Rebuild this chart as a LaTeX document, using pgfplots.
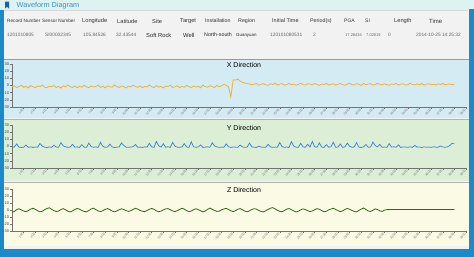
\documentclass[border=0pt]{standalone}
\usepackage{fontspec}
\setmainfont{Liberation Sans}
\usepackage{pgfplots}
\usepackage{pgfplotstable}
\pgfplotsset{compat=1.18}
\definecolor{uiblue}{HTML}{1A8BC8}
\definecolor{titlebg}{HTML}{DDF3F1}
\definecolor{tablebg}{HTML}{F2F2F2}
\definecolor{xbg}{HTML}{D5EBF3}
\definecolor{ybg}{HTML}{DCEFD6}
\definecolor{zbg}{HTML}{FAFAE5}
\definecolor{xcol}{HTML}{F2B134}
\definecolor{ycol}{HTML}{3C84D6}
\definecolor{zcol}{HTML}{2F6A12}
\definecolor{titletxt}{HTML}{3A8FC0}
\definecolor{icon}{HTML}{1F5FA8}

\pgfplotstableread[row sep=\\,header=false]{
-2.1\\ -0.5\\ -3.0\\ -1.2\\ 0.4\\ -2.6\\ -1.0\\ -3.4\\ -0.2\\ -1.8\\
-2.9\\ -0.8\\ -1.5\\ 0.6\\ -2.3\\ -3.1\\ -0.9\\ -1.7\\ -0.1\\ -2.8\\
-1.3\\ -3.6\\ -0.6\\ -2.0\\ 0.8\\ -1.6\\ -2.7\\ -0.4\\ -3.2\\ -1.1\\
-2.4\\ 0.2\\ -1.9\\ -3.0\\ -0.7\\ -2.2\\ -1.4\\ 0.5\\ -2.6\\ -1.0\\
-3.3\\ -0.3\\ -1.8\\ -2.5\\ 0.9\\ -1.2\\ -2.9\\ -0.6\\ -1.6\\ -3.5\\
-0.8\\ -2.1\\ 0.3\\ -1.4\\ -2.7\\ -0.5\\ -3.1\\ -1.3\\ -2.0\\ 0.7\\
-1.7\\ -2.8\\ -0.2\\ -2.3\\ -1.1\\ -3.4\\ -0.9\\ -1.5\\ 0.4\\ -2.6\\
-1.9\\ -0.4\\ -3.0\\ -1.2\\ -2.4\\ 0.1\\ -1.8\\ -2.9\\ -0.7\\ -2.2\\
-1.0\\ -3.2\\ 0.6\\ -1.6\\ -2.5\\ -0.3\\ -1.4\\ -2.8\\ 0.2\\ -1.7\\
-0.5\\ 1.5\\ 0.3\\ -2.0\\ -16.0\\ 8.0\\ 7.5\\ 9.0\\ 6.0\\ 4.5\\ 3.5\\ 2.5\\
2.3\\ 0.8\\ 1.9\\ 3.0\\ 0.4\\ 1.6\\ 2.7\\ 1.1\\ 0.2\\ 2.4\\
1.3\\ 3.2\\ 0.7\\ 1.8\\ 2.6\\ 0.5\\ 1.4\\ 2.9\\ 1.0\\ 2.1\\
0.3\\ 1.7\\ 3.1\\ 1.2\\ 0.6\\ 2.5\\ 1.9\\ 0.9\\ 2.8\\ 1.5\\
0.1\\ 2.2\\ 1.4\\ 3.0\\ 0.8\\ 1.6\\ 2.4\\ 0.5\\ 1.8\\ 2.7\\
1.1\\ 0.4\\ 2.0\\ 3.3\\ 1.3\\ 0.7\\ 2.5\\ 1.6\\ 0.2\\ 2.9\\
1.0\\ 1.9\\ 2.6\\ 0.6\\ 1.4\\ 3.1\\ 1.7\\ 0.9\\ 2.3\\ 1.2\\
0.3\\ 2.1\\ 1.5\\ 2.8\\ 0.8\\ 1.8\\ 2.4\\ 0.5\\ 1.3\\ 3.0\\
1.6\\ 0.7\\ 2.2\\ 1.1\\ 2.7\\ 0.4\\ 1.9\\ 2.5\\ 1.0\\ 1.7\\
0.6\\ 2.3\\ 1.4\\ 2.9\\ 0.9\\ 1.8\\ 2.0\\ 1.2\\ 1.6\\
}\xdata

\pgfplotstableread[row sep=\\,header=false]{
-1.2\\ -0.6\\ 3.5\\ -0.8\\ -1.4\\ -0.9\\ 2.0\\ -1.1\\ -0.5\\ -1.3\\
-0.7\\ -1.0\\ 4.2\\ 0.5\\ -0.9\\ -1.5\\ -0.6\\ -1.2\\ 1.8\\ -0.8\\
-1.1\\ 5.5\\ 0.8\\ -0.4\\ -1.3\\ -0.7\\ 3.0\\ -1.0\\ -0.5\\ -1.4\\
2.5\\ -0.9\\ -1.2\\ 4.8\\ -0.3\\ -1.0\\ -0.6\\ -1.3\\ 6.0\\ 0.2\\
-1.1\\ -0.8\\ 3.2\\ -0.5\\ -1.4\\ -0.9\\ -0.6\\ 5.0\\ 1.5\\ -1.0\\
-1.2\\ -0.7\\ -0.4\\ 2.8\\ -1.1\\ -0.8\\ -1.3\\ -0.5\\ -0.9\\ 4.5\\
-0.6\\ -1.2\\ 7.0\\ 1.0\\ -0.8\\ 3.8\\ -1.0\\ -0.4\\ -1.3\\ 5.8\\
0.3\\ -0.9\\ -1.1\\ -0.6\\ 4.0\\ -0.8\\ -1.2\\ 6.5\\ -0.5\\ -1.0\\
-0.7\\ 2.2\\ -1.3\\ -0.9\\ -0.4\\ -1.1\\ 5.2\\ 0.8\\ -0.6\\ -1.2\\
-0.8\\ -1.0\\ 3.6\\ -0.5\\ -1.3\\ -0.7\\ -0.9\\ -1.1\\ 2.0\\ -0.6\\
-1.2\\ -0.8\\ 4.8\\ -0.4\\ -1.0\\ -1.3\\ 0.5\\ -0.7\\ -1.1\\ -0.9\\
3.0\\ -0.6\\ -1.2\\ -0.8\\ -1.0\\ 5.5\\ -0.3\\ -1.1\\ -0.7\\ -1.4\\
6.8\\ 0.6\\ -0.9\\ -1.2\\ 4.5\\ -0.5\\ -1.0\\ 3.2\\ -0.8\\ 7.2\\
-0.4\\ -1.1\\ 5.0\\ -0.7\\ -1.3\\ 2.5\\ -0.9\\ -0.6\\ 6.0\\ -1.0\\
-0.8\\ 3.5\\ -1.2\\ -0.5\\ 4.8\\ 0.4\\ -1.1\\ -0.7\\ 5.5\\ -0.9\\
-1.3\\ -0.6\\ 2.8\\ -1.0\\ -0.8\\ 6.2\\ 1.2\\ -0.5\\ 3.0\\ -1.1\\
-0.7\\ -1.2\\ 4.0\\ -0.9\\ -0.4\\ -1.0\\ 2.2\\ -1.3\\ -0.6\\ -0.8\\
-1.1\\ -0.5\\ -1.2\\ 1.5\\ -0.9\\ -0.7\\ -1.3\\ -0.6\\ -1.0\\ -0.8\\
-1.2\\ -0.4\\ -0.9\\ -1.1\\ 0.8\\ -0.7\\ -1.0\\ -0.6\\ 1.2\\ 4.5\\
3.8\\
}\ydata

\pgfplotstableread[row sep=\\,header=false]{
-3.5\\ -2.0\\ 0.5\\ 1.8\\ 0.2\\ -1.5\\ -2.4\\ -0.8\\ 1.2\\ 2.5\\
0.9\\ -1.0\\ -2.6\\ -1.8\\ 0.4\\ 2.0\\ 3.2\\ 1.0\\ -0.9\\ -2.2\\
-1.5\\ 0.6\\ 1.9\\ 0.3\\ -1.7\\ -2.8\\ -1.2\\ 0.8\\ 2.3\\ 1.1\\
-0.6\\ -2.1\\ -2.5\\ -0.7\\ 1.4\\ 2.6\\ 0.5\\ -1.3\\ -2.3\\ -1.0\\
0.9\\ 2.1\\ 0.6\\ -1.5\\ -2.6\\ -1.4\\ 0.3\\ 1.7\\ 0.8\\ -0.9\\
-2.0\\ -1.1\\ 0.7\\ 2.4\\ 1.3\\ -0.5\\ -1.8\\ -2.4\\ -0.6\\ 1.0\\
2.2\\ 0.9\\ -1.2\\ -2.5\\ -1.6\\ 0.2\\ 1.6\\ 2.0\\ 0.4\\ -1.4\\
-2.2\\ -1.0\\ 0.8\\ 2.5\\ 1.2\\ -0.8\\ -2.3\\ -1.5\\ 0.5\\ 1.8\\
0.6\\ -1.1\\ -2.7\\ -1.3\\ 0.9\\ 2.7\\ 1.0\\ -0.7\\ -2.0\\ -1.6\\
0.3\\ 1.5\\ 2.3\\ 0.7\\ -1.2\\ -2.4\\ -0.9\\ 1.1\\ 2.0\\ 0.4\\
-1.5\\ -2.6\\ -1.1\\ 0.6\\ 1.9\\ 1.2\\ -0.6\\ -2.1\\ -2.8\\ -1.0\\
0.8\\ 2.6\\ 3.4\\ 1.5\\ -0.4\\ -1.9\\ -2.5\\ -0.8\\ 1.3\\ 2.1\\
0.5\\ -1.3\\ -2.9\\ -1.7\\ 0.2\\ 1.6\\ 0.7\\ -1.0\\ -2.2\\ -1.4\\
0.4\\ 2.0\\ 1.1\\ -0.8\\ -2.5\\ -1.8\\ 0.1\\ 1.4\\ 2.4\\ 0.9\\
-0.9\\ -2.3\\ -1.2\\ 0.7\\ 2.2\\ 1.0\\ -0.6\\ -2.0\\ -2.7\\ -0.5\\
1.2\\ 2.8\\ 0.8\\ -1.4\\ -2.1\\ -0.4\\ 1.6\\ 0.6\\ -1.3\\ -2.0\\
-0.2\\ 0.5\\ 0.6\\
0.6\\ 0.6\\ 0.6\\ 0.6\\ 0.6\\ 0.6\\ 0.6\\ 0.6\\ 0.6\\ 0.6\\
0.6\\ 0.6\\ 0.6\\ 0.6\\ 0.6\\ 0.6\\ 0.6\\ 0.6\\ 0.6\\ 0.6\\
0.6\\ 0.6\\ 0.6\\ 0.6\\ 0.6\\ 0.6\\ 0.6\\ 0.6\\
}\zdata

\pgfplotsset{wf/.style={
  scale only axis, width=454pt, height=43pt,
  xmin=0, xmax=3900, ymin=-30, ymax=30,
  axis x line=bottom, axis y line=left,
  every outer x axis line/.append style={-},
  every outer y axis line/.append style={-},
  axis line style={draw=black!55, line width=0.5pt},
  xtick={100,200,...,3900}, ytick={-30,-20,...,30},
  tick align=outside, major tick length=2pt,
  every tick/.style={draw=black!55, line width=0.4pt},
  /pgf/number format/assume math mode=true,
  /pgf/number format/1000 sep={},
  yticklabel style={font=\fontsize{4}{4}\selectfont, text=black!75, inner sep=0.6pt},
  xticklabel style={font=\fontsize{3.2}{3.2}\selectfont, text=black!55, rotate=45, anchor=east, inner sep=0.6pt},
}}

\begin{document}
\begin{tikzpicture}
\useasboundingbox (0pt,0pt) rectangle (474pt,-257pt);
\begin{scope}[x=1pt,y=-1pt]
  % general background
  \fill[tablebg] (0,0) rectangle (474,257);
  \fill[titlebg] (0,0) rectangle (474,10);
  \draw[black!15, line width=0.5pt] (0,10) -- (468,10);
  \fill[uiblue] (0,10) rectangle (3.5,257);
  \fill[uiblue] (468.5,9) rectangle (474,257);
  \fill[uiblue] (0,249) rectangle (474,257);
  % icon and title
  \fill[icon] (5,1.5) -- (9,1.5) -- (9,8.5) -- (7,6.8) -- (5,8.5) -- cycle;
  \node[anchor=west, inner sep=0, text=titletxt, font=\fontsize{7.3}{7.3}\selectfont] at (16.5,5.3) {Waveform Diagram};
  % table header
  \begin{scope}[every node/.style={anchor=west, inner sep=0, text=black!80}]
    \node[font=\fontsize{4.7}{4.7}\selectfont] at (7,21) {Record Number};
    \node[font=\fontsize{4.7}{4.7}\selectfont] at (42,21) {Sensor Number};
    \node[font=\fontsize{5.7}{5.7}\selectfont] at (82,21) {Longitude};
    \node[font=\fontsize{5.7}{5.7}\selectfont] at (117,21) {Latitude};
    \node[font=\fontsize{5.7}{5.7}\selectfont] at (152,21) {Site};
    \node[font=\fontsize{5.7}{5.7}\selectfont] at (180,21) {Target};
    \node[font=\fontsize{5.3}{5.3}\selectfont] at (205,21) {Installation};
    \node[font=\fontsize{5.3}{5.3}\selectfont] at (238,21) {Region};
    \node[font=\fontsize{5.5}{5.5}\selectfont] at (272,21) {Initial Time};
    \node[font=\fontsize{5.3}{5.3}\selectfont] at (310,21) {Period(s)};
    \node[font=\fontsize{5.0}{5.0}\selectfont] at (344,21) {PGA};
    \node[font=\fontsize{5.0}{5.0}\selectfont] at (365,21) {SI};
    \node[font=\fontsize{5.7}{5.7}\selectfont] at (394,21) {Length};
    \node[font=\fontsize{6.0}{6.0}\selectfont] at (429,21) {Time};
  \end{scope}
  \begin{scope}[every node/.style={anchor=west, inner sep=0, text=black!60, font=\fontsize{4.8}{4.8}\selectfont}]
    \node at (7,35) {1201010805};
    \node at (45,35) {SI00002345};
    \node at (83,35) {105.84526};
    \node at (116,35) {32.43544};
    \node[text=black!85, font=\fontsize{5.8}{5.8}\selectfont] at (146,35) {Soft Rock};
    \node[text=black!85, font=\fontsize{5.8}{5.8}\selectfont] at (183,35) {Well};
    \node[text=black!85, font=\fontsize{5.3}{5.3}\selectfont] at (204,35) {North-south};
    \node[text=black!85, font=\fontsize{4.4}{4.4}\selectfont] at (236,35) {Guanyuan};
    \node at (270,35) {120101080531};
    \node at (313,35) {2};
    \node[font=\fontsize{4.0}{4.0}\selectfont] at (345,35) {17.28434};
    \node[font=\fontsize{4.0}{4.0}\selectfont] at (366,35) {7.02819};
    \node at (388,35) {0};
    \node at (416,35) {2014-10-25 14:25:32};
  \end{scope}
  % panels
  \fill[xbg] (3.5,59) rectangle (468.5,118);
  \fill[ybg] (3.5,119.5) rectangle (468.5,181);
  \fill[zbg] (3.5,182.5) rectangle (468.5,246);
  \draw[black!40, line width=0.5pt] (3.5,58.8) -- (468.5,58.8);
  \draw[black!30, line width=0.5pt] (3.5,118.8) -- (468.5,118.8);
  \draw[black!30, line width=0.5pt] (3.5,181.8) -- (468.5,181.8);
  \node[inner sep=0, font=\fontsize{7}{7}\selectfont] at (244,64.5) {X Direction};
  \node[inner sep=0, font=\fontsize{7}{7}\selectfont] at (244,128) {Y Direction};
  \node[inner sep=0, font=\fontsize{7}{7}\selectfont] at (244,189.5) {Z Direction};
\end{scope}

\begin{axis}[wf, at={(12pt,-107pt)}, anchor=south west]
  \addplot[xcol, line width=0.8pt, no markers] table[x expr=\coordindex*20, y index=0] {\xdata};
\end{axis}
\begin{axis}[wf, at={(12pt,-168pt)}, anchor=south west]
  \addplot[ycol, line width=0.75pt, no markers] table[x expr=\coordindex*20, y index=0] {\ydata};
\end{axis}
\begin{axis}[wf, height=42pt, at={(12pt,-231pt)}, anchor=south west]
  \addplot[zcol, line width=0.8pt, no markers] table[x expr=\coordindex*20, y index=0] {\zdata};
\end{axis}
\end{tikzpicture}
\end{document}
